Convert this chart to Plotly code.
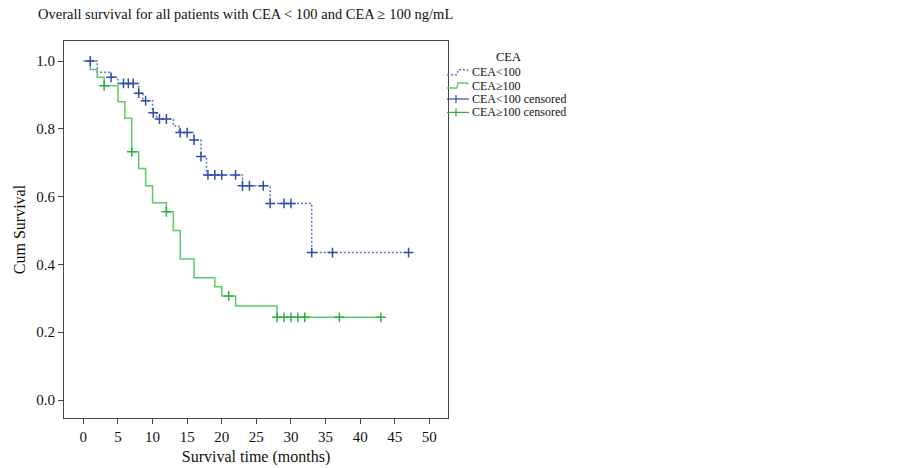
import plotly.graph_objects as go

# Kaplan-Meier step data

# CEA < 100
low_time = [0, 2, 4, 5, 8, 8.6, 10, 10.6, 13, 13.8, 16, 17, 17.8, 23, 27, 33, 47]
low_surv = [1.0, 0.967, 0.952, 0.934, 0.905, 0.883, 0.847, 0.829, 0.808, 0.789,
            0.767, 0.718, 0.664, 0.632, 0.580, 0.435, 0.435]
low_cens_time = [1, 4, 5.8, 6.5, 7.2, 8, 9, 10.1, 11, 12, 14, 15, 16, 17, 18, 19, 20,
                 22, 23, 24, 26, 27, 29, 30, 33, 36, 47]
low_cens_surv = [1.0, 0.952, 0.934, 0.934, 0.934, 0.905, 0.883, 0.847, 0.829, 0.829,
                 0.789, 0.789, 0.767, 0.718, 0.664, 0.664, 0.664, 0.664, 0.632, 0.632,
                 0.632, 0.580, 0.580, 0.580, 0.435, 0.435, 0.435]

# CEA >= 100
high_time = [0, 1, 2, 3, 5, 6, 7, 8, 9, 10, 12, 13, 14, 16, 19, 20, 22, 28, 43]
high_surv = [1.0, 0.975, 0.952, 0.927, 0.880, 0.831, 0.732, 0.683, 0.632, 0.582,
             0.555, 0.500, 0.416, 0.361, 0.334, 0.307, 0.277, 0.244, 0.244]
high_cens_time = [3, 7, 12, 21, 28, 29, 30, 31, 32, 37, 43]
high_cens_surv = [0.927, 0.732, 0.555, 0.307, 0.244, 0.244, 0.244, 0.244, 0.244, 0.244, 0.244]

x_ticks = [0, 5, 10, 15, 20, 25, 30, 35, 40, 45, 50]
y_ticks = [0.0, 0.2, 0.4, 0.6, 0.8, 1.0]

legend_title = 'CEA'
legend_labels = ['CEA<100', 'CEA\u2265100', 'CEA<100 censored', 'CEA\u2265100 censored']

FONT = 'Liberation Serif, Times New Roman, serif'
INK = '#111111'
BLUE_LINE = '#5c74c8'
BLUE_MARK = '#2f4ea8'
GREEN_LINE = '#5ccb68'
GREEN_MARK = '#2fae41'

# plot box in pixels (figure is 902 x 468)
L, R, T, B = 64, 448, 41, 418


def px(x):
    return (x - L) / (R - L)


def py(y):
    return (B - y) / (B - T)


fig = go.Figure()

fig.add_trace(go.Scatter(x=low_time, y=low_surv, mode='lines', name=legend_labels[0],
                         line=dict(color=BLUE_LINE, width=1.5, dash='2px,2px', shape='hv')))
fig.add_trace(go.Scatter(x=high_time, y=high_surv, mode='lines', name=legend_labels[1],
                         line=dict(color=GREEN_LINE, width=1.5, shape='hv')))
fig.add_trace(go.Scatter(x=low_cens_time, y=low_cens_surv, mode='markers',
                         name=legend_labels[2],
                         marker=dict(symbol='cross-thin', size=7,
                                     line=dict(color=BLUE_MARK, width=1.5))))
fig.add_trace(go.Scatter(x=high_cens_time, y=high_cens_surv, mode='markers',
                         name=legend_labels[3],
                         marker=dict(symbol='cross-thin', size=7,
                                     line=dict(color=GREEN_MARK, width=1.5))))

axis_common = dict(showline=True, linecolor='#444444', linewidth=1, mirror=True,
                   ticks='outside', ticklen=5, tickcolor='#444444', showgrid=False,
                   zeroline=False, automargin=False,
                   tickfont=dict(family=FONT, size=15, color=INK))

fig.update_xaxes(range=[-2.8, 52.7], tickvals=x_ticks,
                 title=dict(text='Survival time (months)', standoff=6,
                            font=dict(family=FONT, size=16, color=INK)),
                 **axis_common)
fig.update_yaxes(range=[-0.053, 1.059], tickvals=y_ticks, tickformat='.1f',
                 title=dict(text='Cum Survival', standoff=6,
                            font=dict(family=FONT, size=16, color=INK)),
                 **axis_common)

# legend drawn by hand so rows sit as tight as in the original
rows_y = [72.2, 85.6, 99.0, 112.4]
shapes = []
annotations = [dict(x=px(508), y=py(57), xref='paper', yref='paper', text=legend_title,
                    showarrow=False, xanchor='center', yanchor='middle', borderpad=0,
                    font=dict(family=FONT, size=12.5, color=INK))]

for i, (label, yy) in enumerate(zip(legend_labels, rows_y)):
    annotations.append(dict(x=px(471), y=py(yy), xref='paper', yref='paper', text=label,
                            showarrow=False, xanchor='left', yanchor='middle', borderpad=0,
                            font=dict(family=FONT, size=12, color=INK)))
    if i < 2:
        lo, hi = py(yy + 2.5), py(yy - 2.5)
        path = 'M{},{} L{},{} L{},{} L{},{} L{},{}'.format(
            px(447), lo, px(457), lo, px(458), hi, px(467), hi, px(468), py(yy - 1))
        shapes.append(dict(type='path', xref='paper', yref='paper', path=path,
                           line=dict(color=BLUE_LINE if i == 0 else GREEN_LINE, width=1.5,
                                     dash='2px,2px' if i == 0 else 'solid')))
    else:
        col = BLUE_MARK if i == 2 else GREEN_MARK
        shapes.append(dict(type='line', xref='paper', yref='paper',
                           x0=px(447), x1=px(469), y0=py(yy), y1=py(yy),
                           line=dict(color=col, width=1.2)))
        shapes.append(dict(type='line', xref='paper', yref='paper',
                           x0=px(456), x1=px(456), y0=py(yy - 4), y1=py(yy + 4),
                           line=dict(color=col, width=1.2)))

fig.update_layout(
    width=902, height=468,
    margin=dict(l=L, r=902 - R, t=T, b=468 - B),
    paper_bgcolor='white', plot_bgcolor='white',
    title=dict(text='Overall survival for all patients with CEA < 100 and CEA \u2265 100 ng/mL',
               x=38 / 902, xanchor='left', xref='container',
               y=1 - 14 / 468, yanchor='middle', yref='container',
               font=dict(family=FONT, size=14.5, color=INK)),
    showlegend=False,
    shapes=shapes,
    annotations=annotations,
)

fig.write_html("out.html", config={'displayModeBar': False},
               post_script="document.body.style.margin='0';")
